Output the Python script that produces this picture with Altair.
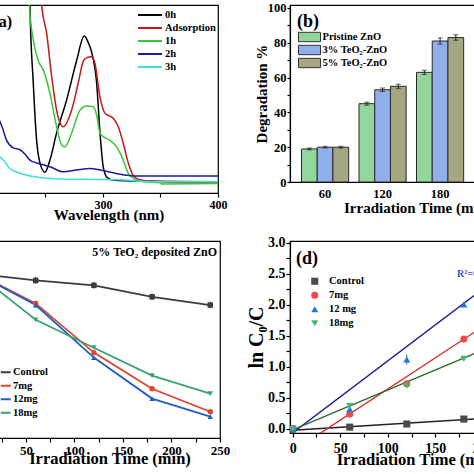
import altair as alt
import pandas as pd

FONT = "Liberation Serif"

# ---------------- (a) UV-vis spectra ----------------
a_series = ["0h", "Adsorption", "1h", "2h", "3h"]
a_colors = ["#000000", "#c41a1a", "#36c836", "#1b1b9e", "#40dede"]
a_nm = {
    "0h": [236.1, 236.5, 239.4, 242.3, 245.2, 249.5, 253.9, 259.7, 268.4, 277.1, 283.7, 286.9, 290.1,
           294.5, 297.4, 300.2, 303.2, 307.5, 319.1, 400.0],
    "Adsorption": [245.6, 246.7, 251.0, 255.4, 259.7, 265.4, 272.7, 278.5, 282.8, 285.8, 290.1, 293.0,
                   297.4, 301.7, 308.9, 313.3, 317.6, 322.0, 326.3, 332.1, 349.5, 400.0],
    "1h": [235.4, 235.9, 239.4, 243.7, 248.1, 253.9, 259.7, 264.1, 266.9, 272.7, 280.0, 285.8, 291.0,
           294.5, 297.4, 300.2, 306.1, 311.9, 317.6, 322.0, 326.3, 335.0, 349.5, 351.0, 400.0],
    "2h": [206.1, 210.4, 212.1, 216.2, 222.0, 227.8, 232.1, 236.5, 242.3, 248.1, 253.9, 265.4, 277.1,
           288.7, 297.4, 308.9, 320.6, 332.1, 400.0],
    "3h": [206.1, 210.4, 213.3, 219.1, 227.8, 239.4, 253.9, 282.8, 311.9, 346.7, 400.0],
}
a_abs = {
    "0h": [2.37, 2.00, 1.17, 0.56, 0.32, 0.22, 0.35, 0.64, 0.99, 1.41, 1.67, 1.61, 1.50,
           1.17, 0.64, 0.28, 0.17, 0.14, 0.13, 0.12],
    "Adsorption": [2.37, 2.00, 1.70, 1.24, 0.88, 0.705, 0.88, 1.17, 1.40, 1.44, 1.45, 1.38,
                   1.02, 0.85, 0.795, 0.705, 0.53, 0.32, 0.19, 0.14, 0.12, 0.11],
    "1h": [2.37, 2.00, 1.63, 1.41, 1.31, 1.06, 0.705, 0.51, 0.49, 0.635, 0.88, 0.925, 0.92,
           0.83, 0.635, 0.60, 0.56, 0.49, 0.35, 0.21, 0.155, 0.12, 0.11, 0.095, 0.10],
    "2h": [0.94, 0.76, 0.71, 0.56, 0.48, 0.46, 0.415, 0.35, 0.32, 0.30, 0.28, 0.225, 0.245,
           0.26, 0.245, 0.215, 0.19, 0.18, 0.18],
    "3h": [0.46, 0.385, 0.35, 0.26, 0.21, 0.175, 0.155, 0.145, 0.14, 0.12, 0.12],
}

# ---------------- (b) degradation bars ----------------
b_times = ["60", "120", "180", "240"]
b_samples = ["Pristine ZnO", "3% TeO₂-ZnO", "5% TeO₂-ZnO"]
b_colors = ["#93d69b", "#90aeea", "#a6a682"]
b_values = {
    "Pristine ZnO": [19.0, 45.0, 63.0],
    "3% TeO₂-ZnO": [20.0, 53.0, 81.0],
    "5% TeO₂-ZnO": [20.0, 55.0, 83.0],
}
b_errors = {
    "Pristine ZnO": [0.5, 0.9, 1.2],
    "3% TeO₂-ZnO": [0.5, 1.0, 1.8],
    "5% TeO₂-ZnO": [0.5, 1.2, 1.6],
}

# ---------------- (c) C/C0 vs time ----------------
c_series = ["Control", "7mg", "12mg", "18mg"]
c_colors = ["#3c3c3c", "#e0452f", "#1f5fc0", "#3aa272"]
c_shapes = ["square", "circle", "triangle-up", "triangle-down"]
c_time = [0, 60, 120, 180, 240]
c_values = {
    "Control": [1.0, 0.96, 0.93, 0.86, 0.81],
    "7mg": [1.0, 0.82, 0.52, 0.30, 0.16],
    "12mg": [1.0, 0.81, 0.49, 0.24, 0.13],
    "18mg": [1.0, 0.72, 0.55, 0.38, 0.27],
}
c_errors = {
    "Control": [0.0, 0.022, 0.02, 0.02, 0.02],
    "7mg": [0.0, 0.015, 0.0, 0.0, 0.0],
    "12mg": [0.0, 0.015, 0.0, 0.0, 0.0],
    "18mg": [0.0, 0.0, 0.0, 0.0, 0.0],
}

# ---------------- (d) ln(C0/C) kinetics ----------------
d_series = ["Control", "7mg", "12 mg", "18mg"]
d_colors = ["#4a4a4a", "#ee4848", "#2a74d8", "#3cba78"]
d_fit_colors = ["#222222", "#d03030", "#1c1c9a", "#2e6b2e"]
d_shapes = ["square", "circle", "triangle-up", "triangle-down"]
d_time = [0, 60, 120, 180]
d_values = {
    "Control": [0.0, 0.03, 0.08, 0.16],
    "7mg": [0.0, 0.24, 0.73, 1.45],
    "12 mg": [0.0, 0.32, 1.12, 2.01],
    "18mg": [0.0, 0.37, 0.70, 1.13],
}
d_errors = {
    "Control": [0.01, 0.01, 0.015, 0.02],
    "7mg": [0.01, 0.02, 0.02, 0.02],
    "12 mg": [0.01, 0.03, 0.08, 0.02],
    "18mg": [0.01, 0.02, 0.03, 0.02],
}
d_fit_intercept = [-0.02, -0.36, -0.062, -0.016]
d_fit_slope = [0.00095, 0.01005, 0.0116, 0.00644]
d_r2_label = "R²=0.99"

# ================= tables =================
df_a = pd.DataFrame([
    {"aser": s, "nm": x, "absorb": y}
    for s in a_series for x, y in zip(a_nm[s], a_abs[s])
])
df_b = pd.DataFrame([
    {"time": b_times[i], "sample": s, "value": v, "err": b_errors[s][i]}
    for s in b_samples for i, v in enumerate(b_values[s])
])
df_c = pd.DataFrame([
    {"cser": s, "ccol": c_colors[k], "cshape": c_shapes[k], "t": t, "v": v, "err": e}
    for k, s in enumerate(c_series) for t, v, e in zip(c_time, c_values[s], c_errors[s])
])
df_d = pd.DataFrame([
    {"dser": s, "dcol": d_colors[k], "t": t, "v": v, "err": e}
    for k, s in enumerate(d_series) for t, v, e in zip(d_time, d_values[s], d_errors[s])
])
df_fit = pd.DataFrame({"fser": d_series, "fcol": d_fit_colors,
                       "intercept": d_fit_intercept, "slope": d_fit_slope})


def ax(**kw):
    base = dict(grid=False, labelFlush=False, labelOverlap=False, tickSize=4)
    base.update(kw)
    return alt.Axis(**base)


# ================= panel (a) =================
xa = alt.X("nm:Q", scale=alt.Scale(domain=[209.6, 400], nice=False, zero=False),
           axis=ax(values=[250, 300, 350, 400],
                   labelExpr="datum.value % 100 == 0 ? datum.label : ''",
                   title="Wavelength (nm)", labelFontSize=12, titleFontSize=15,
                   labelPadding=2, titlePadding=-3))
ya = alt.Y("absorb:Q", scale=alt.Scale(domain=[0, 2], nice=False), axis=None)

a_lines = alt.Chart(df_a).mark_line(clip=True, strokeWidth=1.5, interpolate="monotone").encode(
    x=xa, y=ya,
    color=alt.Color("aser:N", sort=a_series,
                    scale=alt.Scale(domain=a_series, range=a_colors),
                    legend=alt.Legend(orient="none", legendX=145, legendY=4, title=None,
                                      symbolType="M-2.4,0H2.4", symbolSize=100, symbolStrokeWidth=2,
                                      labelFontSize=10.5, labelOffset=9, rowPadding=1)),
)
a_tag = alt.Chart(pd.DataFrame({"nm": [220.9], "absorb": [1.82], "t": ["(a)"]})).mark_text(
    clip=True, align="right", baseline="middle", fontSize=16, fontWeight="bold", font=FONT
).encode(x=xa, y=ya, text="t:N")
panel_a = alt.layer(a_lines, a_tag).properties(width=219, height=188)

# ================= panel (b) =================
xb = alt.X("time:N", sort=b_times,
           scale=alt.Scale(domain=b_times, paddingInner=0.18, paddingOuter=0.2987, align=0.335),
           axis=ax(title="Irradiation Time (min)", labelAngle=0, ticks=False, labelFontSize=12.5,
                   titleFontSize=15, labelPadding=5, titlePadding=1))
xob = alt.XOffset("sample:N", sort=b_samples,
                  scale=alt.Scale(domain=b_samples, paddingInner=0, paddingOuter=0))
yb_scale = alt.Scale(domain=[0, 101.7], nice=False)
yb_axis = ax(values=list(range(0, 101, 10)),
             labelExpr="datum.value % 20 == 0 ? datum.label : ''",
             title="Degradation %", labelFontSize=12.5, titleFontSize=15,
             tickSize=3, labelPadding=1, titlePadding=-2)
b_bars = alt.Chart(df_b).mark_bar(stroke="#2a2a2a", strokeWidth=1).encode(
    x=xb, xOffset=xob,
    y=alt.Y("value:Q", scale=yb_scale, axis=yb_axis),
    color=alt.Color("sample:N", sort=b_samples, scale=alt.Scale(domain=b_samples, range=b_colors),
                    legend=alt.Legend(orient="none", legendX=7, legendY=8, title="(b)",
                                      titleFontSize=18, titlePadding=0, gridAlign="all",
                                      symbolType="M-2,-0.85H2V0.85H-2Z", symbolSize=121,
                                      symbolStrokeColor="#333333", symbolStrokeWidth=1,
                                      symbolOffset=6.5, labelFontSize=10.5, labelOffset=7,
                                      rowPadding=-1)),
)
b_err_base = alt.Chart(df_b).transform_calculate(
    lo="datum.value - datum.err", hi="datum.value + datum.err")
b_err = b_err_base.mark_rule(color="#222222", strokeWidth=1).encode(
    x=xb, xOffset=xob,
    y=alt.Y("lo:Q", scale=yb_scale, axis=yb_axis), y2="hi:Q")
b_cap_lo = b_err_base.mark_tick(color="#222222", thickness=1, size=5).encode(
    x=xb, xOffset=xob, y=alt.Y("lo:Q", scale=yb_scale, axis=yb_axis))
b_cap_hi = b_err_base.mark_tick(color="#222222", thickness=1, size=5).encode(
    x=xb, xOffset=xob, y=alt.Y("hi:Q", scale=yb_scale, axis=yb_axis))
panel_b = alt.layer(b_bars, b_err, b_cap_lo, b_cap_hi).properties(width=254, height=177)

# ================= panel (c) =================
xc_scale = alt.Scale(domain=[22.2, 250], nice=False, zero=False)
yc_scale = alt.Scale(domain=[0, 1.2], nice=False)
xc_axis = ax(values=list(range(25, 251, 25)),
             labelExpr="datum.value % 50 == 0 ? datum.label : ''",
             title="Irradiation Time (min)", labelFontSize=13, titleFontSize=16.5,
             labelPadding=2, titlePadding=-7)
xc = alt.X("t:Q", scale=xc_scale, axis=xc_axis)
yc = alt.Y("v:Q", scale=yc_scale, axis=None)
c_lines = alt.Chart(df_c).mark_line(clip=True, strokeWidth=1.8).encode(
    x=xc, y=yc,
    color=alt.Color("cser:N", sort=c_series, scale=alt.Scale(domain=c_series, range=c_colors),
                    legend=alt.Legend(orient="none", legendX=1.5, legendY=126, title=None,
                                      symbolType="M-2,0H2", symbolSize=25, symbolStrokeWidth=2,
                                      labelFontSize=10.5, labelOffset=2, rowPadding=2.5)),
)
c_err = alt.Chart(df_c).transform_calculate(
    lo="datum.v - datum.err", hi="datum.v + datum.err"
).mark_rule(clip=True, strokeWidth=1).encode(
    x=xc, y=alt.Y("lo:Q", scale=yc_scale, axis=None), y2="hi:Q",
    color=alt.Color("ccol:N", scale=None))
c_pts = alt.Chart(df_c).mark_point(clip=True, filled=True, size=30, opacity=1).encode(
    x=xc, y=yc,
    color=alt.Color("ccol:N", scale=None),
    shape=alt.Shape("cshape:N", scale=None))
c_tag = alt.Chart(pd.DataFrame({"t": [246.9], "v": [1.133], "s": ["5% TeO₂ deposited ZnO"]})).mark_text(
    clip=True, align="right", baseline="middle", fontSize=12, fontWeight="bold", font=FONT
).encode(x=xc, y=yc, text="s:N")
panel_c = alt.layer(c_lines, c_err, c_pts, c_tag).properties(width=221, height=197)

# ================= panel (d) =================
xd_scale = alt.Scale(domain=[-2.84, 264.3], nice=False, zero=False)
yd_scale = alt.Scale(domain=[-0.065, 3.032], nice=False, zero=False)
xd_axis = ax(values=list(range(0, 251, 25)),
             labelExpr="datum.value % 50 == 0 ? datum.label : ''",
             title="Irradiation Time (min)", labelFontSize=14, titleFontSize=16.5,
             labelPadding=4, titlePadding=-4)
yd_axis = ax(values=[i * 0.25 for i in range(13)],
             labelExpr="datum.value * 4 % 2 == 0 ? format(datum.value, '.1f') : ''",
             title="ln C₀/C", labelFontSize=14, titleFontSize=20,
             labelPadding=1, titlePadding=1)
xd = alt.X("t:Q", scale=xd_scale, axis=xd_axis)
yd = alt.Y("v:Q", scale=yd_scale, axis=yd_axis)
d_legend = alt.Legend(orient="none", legendX=6, legendY=9, title="(d)", titleFontSize=18,
                      titlePadding=8, symbolSize=50, symbolOffset=13.5, labelFontSize=10.5,
                      labelOffset=9, rowPadding=3)
d_fit = alt.Chart(df_fit).transform_calculate(
    x0="0", x1="240", y0="datum.intercept", y1="datum.intercept + datum.slope * 240"
).mark_rule(clip=True, strokeWidth=1.4).encode(
    x=alt.X("x0:Q", scale=xd_scale, axis=xd_axis), x2="x1:Q",
    y=alt.Y("y0:Q", scale=yd_scale, axis=yd_axis), y2="y1:Q",
    color=alt.Color("fcol:N", scale=None))
d_err = alt.Chart(df_d).transform_calculate(
    lo="datum.v - datum.err", hi="datum.v + datum.err"
).mark_rule(clip=True, strokeWidth=1).encode(
    x=xd, y=alt.Y("lo:Q", scale=yd_scale, axis=yd_axis), y2="hi:Q",
    color=alt.Color("dcol:N", scale=None))
d_pts = alt.Chart(df_d).mark_point(clip=True, filled=True, size=50, opacity=1).encode(
    x=xd, y=yd,
    color=alt.Color("dser:N", sort=d_series, scale=alt.Scale(domain=d_series, range=d_colors),
                    legend=d_legend),
    shape=alt.Shape("dser:N", sort=d_series, scale=alt.Scale(domain=d_series, range=d_shapes),
                    legend=d_legend))
d_r2 = alt.Chart(pd.DataFrame({"t": [172.8], "v": [2.5], "s": [d_r2_label]})).mark_text(
    align="left", baseline="middle", fontSize=10, fontWeight="bold", font=FONT, color="#3a55b5"
).encode(x=xd, y=yd, text="s:N")
panel_d = alt.layer(d_fit, d_err, d_pts, d_r2).properties(width=254, height=192)

# ================= layout =================
res = dict(color="independent", shape="independent",
           x="independent", y="independent")
chart = alt.concat(
    panel_a, panel_b, panel_c, panel_d,
    columns=2, spacing={"row": 48, "column": 70}, bounds="flush",
).resolve_scale(**res).properties(
    padding={"left": -2, "top": 1, "right": -71, "bottom": 0},
    background="white",
).configure_view(
    stroke="black", strokeWidth=1.2
).configure_axis(
    labelFont=FONT, titleFont=FONT, labelFontWeight="bold", titleFontWeight="bold",
    labelColor="black", titleColor="black", domainColor="black", tickColor="black",
    domainWidth=1.2, tickWidth=1.2
).configure_legend(
    labelFont=FONT, titleFont=FONT, labelFontWeight="bold", titleFontWeight="bold",
    labelColor="black", titleColor="black", padding=0
)

chart.save("out.html", embed_options={"renderer": "svg", "actions": False})
